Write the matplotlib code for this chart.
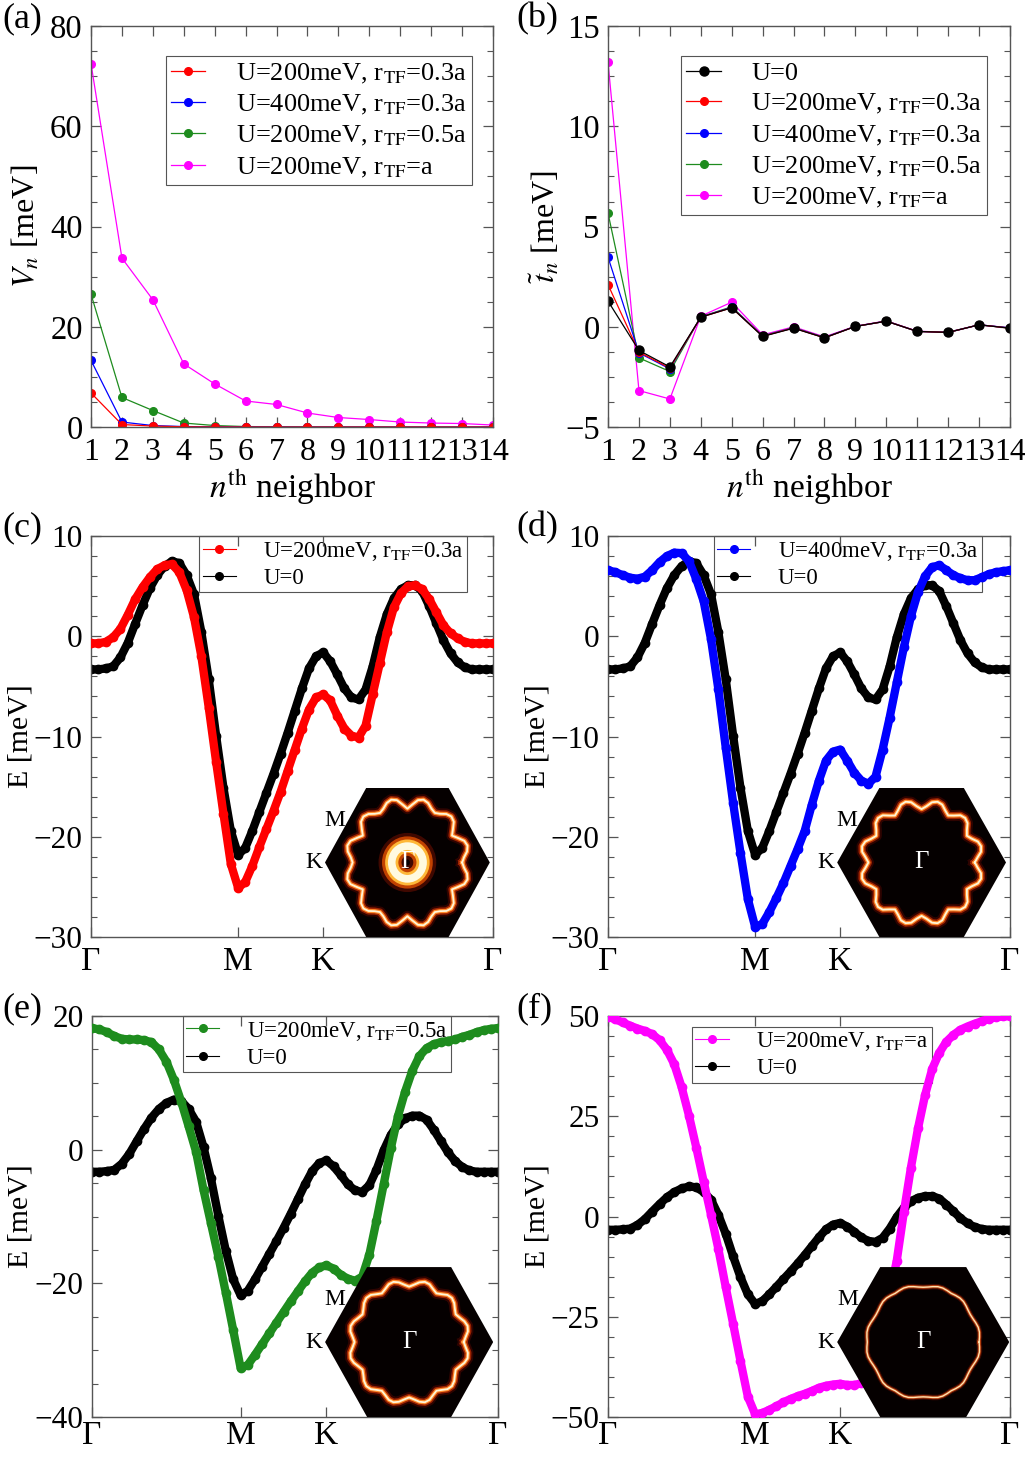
import numpy as np
import matplotlib.pyplot as plt
from matplotlib.lines import Line2D
from matplotlib.patches import Polygon, Circle
from matplotlib.ticker import MultipleLocator, AutoMinorLocator

plt.rcParams['font.family'] = ['Liberation Serif', 'DejaVu Serif']
plt.rcParams['mathtext.fontset'] = 'stix'

RED, BLUE, GREEN, MAGENTA, BLACK = '#ff0000', '#0000ff', '#1e8c1e', '#ff00ff', '#000000'
FRAME = '#555555'

# ---- panels (a), (b): effective couplings vs neighbour index
neighbor = [1, 2, 3, 4, 5, 6, 7, 8, 9, 10, 11, 12, 13, 14]

V_red = [6.8, 0.5, 0.2, 0.05, 0.02, 0.01, 0, 0, 0, 0, 0, 0, 0, 0]
V_blue = [13.3, 1.0, 0.3, 0.1, 0.05, 0.02, 0.01, 0, 0, 0, 0, 0, 0, 0]
V_green = [26.5, 5.9, 3.3, 0.8, 0.3, 0.1, 0.05, 0.03, 0.02, 0.01, 0, 0, 0, 0]
V_magenta = [72.5, 33.7, 25.4, 12.6, 8.6, 5.2, 4.5, 2.8, 1.9, 1.5, 1.0, 0.8, 0.7, 0.4]

t_u0 = [1.28, -1.18, -2.0, 0.48, 0.95, -0.48, -0.07, -0.55, 0.02, 0.28, -0.23, -0.28, 0.1, -0.07]
t_red = [2.1, -1.26, -2.06, 0.48, 0.95, -0.47, -0.06, -0.55, 0.02, 0.28, -0.23, -0.28, 0.1, -0.07]
t_blue = [3.47, -1.3, -2.1, 0.49, 0.97, -0.46, -0.05, -0.54, 0.02, 0.28, -0.23, -0.28, 0.1, -0.06]
t_green = [5.67, -1.55, -2.23, 0.5, 1.0, -0.45, -0.04, -0.53, 0.02, 0.29, -0.23, -0.27, 0.1, -0.06]
t_magenta = [13.2, -3.18, -3.6, 0.53, 1.23, -0.4, 0.0, -0.5, 0.03, 0.3, -0.22, -0.27, 0.1, -0.05]

lab_red = 'U=200meV, r$_{\\mathrm{TF}}$=0.3a'
lab_blue = 'U=400meV, r$_{\\mathrm{TF}}$=0.3a'
lab_green = 'U=200meV, r$_{\\mathrm{TF}}$=0.5a'
lab_magenta = 'U=200meV, r$_{\\mathrm{TF}}$=a'
lab_u0 = 'U=0'

# ---- panels (c)-(f): bands along Gamma-M-K-Gamma
kG, kM, kK, kG2 = 0.0, 1.0, 1 + 1 / np.sqrt(3), 1 + np.sqrt(3)
k_path = np.concatenate([np.linspace(kG, kM, 21), np.linspace(kM, kK, 13)[1:],
                         np.linspace(kK, kG2, 25)[1:]])
k_labels = ['Γ', 'M', 'K', 'Γ']

E_u0 = [-3.3, -3.3, -3.2, -3.0, -2.1, -0.65, 1.25, 3.1, 4.8, 6.1, 7.0, 7.5, 7.3, 6.1, 4.2, 0.4,
        -4.3, -9.9, -15.1, -19.4, -21.8,
        -21.1, -19.4, -17.5, -15.6, -13.7, -11.7, -9.6, -7.4, -5.2, -3.2, -2.0, -1.6,
        -2.5, -3.8, -5.2, -6.1, -6.3, -5.3, -3.0, -0.1, 2.2, 3.8, 4.7, 5.1, 5.1, 4.5, 3.0, 1.3,
        -0.4, -1.7, -2.6, -3.1, -3.3, -3.3, -3.3, -3.3]
E_red = [-0.7, -0.7, -0.55, -0.1, 0.75, 2.15, 3.7, 4.9, 5.9, 6.7, 7.1, 7.2, 6.4, 4.6, 1.9, -2.0,
         -7.1, -12.5, -17.7, -22.7, -25.1,
         -24.5, -22.9, -21.0, -19.2, -17.4, -15.5, -13.4, -11.3, -9.2, -7.3, -6.1, -5.8,
         -6.4, -7.9, -9.2, -9.9, -10.1, -8.9, -5.8, -2.7, 0.4, 2.9, 4.3, 5.0, 5.1, 4.7, 3.7, 2.4,
         1.1, 0.3, -0.2, -0.55, -0.7, -0.7, -0.7, -0.7]
E_blue = [6.6, 6.4, 6.1, 5.85, 5.75, 5.95, 6.6, 7.4, 8.0, 8.35, 8.3, 7.5, 5.7, 3.5, -0.3, -5.3,
          -11.1, -16.6, -21.6, -26.2, -29.0,
          -28.7, -27.5, -26.1, -24.6, -22.9, -21.2, -19.4, -16.8, -14.4, -12.4, -11.5, -11.3,
          -12.4, -13.6, -14.4, -14.7, -14.0, -11.3, -8.1, -4.6, -1.1, 2.0, 4.4, 6.0, 6.9, 7.1, 6.6,
          6.1, 5.8, 5.6, 5.6, 5.9, 6.2, 6.4, 6.5, 6.6]
E_green = [18.2, 18.0, 17.6, 17.0, 16.6, 16.5, 16.5, 16.4, 16.1, 15.0, 13.2, 10.5, 7.2, 3.5, -0.3,
           -6.0, -11.0, -16.0, -21.4, -27.0, -32.7,
           -32.2, -30.7, -29.1, -27.5, -25.9, -24.3, -22.7, -21.2, -19.7, -18.4, -17.6, -17.3,
           -17.8, -18.7, -19.3, -19.6, -19.0, -15.7, -10.6, -5.2, 0.2, 5.0, 8.7, 11.8, 14.0, 15.2,
           15.8, 16.1, 16.3, 16.5, 16.9, 17.2, 17.6, 17.9, 18.1, 18.2]
E_magenta = [49.8, 49.2, 48.4, 47.6, 46.9, 46.3, 45.5, 44.0, 41.6, 38.0, 32.3, 25.2, 17.2, 8.7,
             0.4, -8.1, -17.6, -26.7, -36.0, -44.9, -49.3,
             -49.0, -48.2, -47.3, -46.3, -45.5, -44.8, -44.2, -43.5, -42.7, -42.2, -41.9, -41.7,
             -42.0, -42.0, -41.6, -40.0, -35.5, -28.0, -19.5, -11.0, 1.1, 12.2, 22.0, 30.3, 36.8,
             40.8, 43.6, 45.3, 46.6, 47.4, 48.1, 48.7, 49.3, 49.7, 49.9, 50.0]

# ---- Fermi-surface insets: radius (in units of |GK|) vs angle from the K direction
fs_angle = [0, 5, 10, 15, 20, 25, 30]
fs_c = [0.665, 0.69, 0.735, 0.755, 0.735, 0.675, 0.625]
fs_c_ring = 0.19
fs_d = [0.63, 0.665, 0.715, 0.73, 0.71, 0.655, 0.62]
fs_e = [0.65, 0.675, 0.71, 0.72, 0.70, 0.665, 0.64]
fs_f = [0.650, 0.657, 0.664, 0.662, 0.650, 0.638, 0.633]


def fs_curve(radii):
    a = np.array(fs_angle, float)
    r = np.array(radii, float)
    a60 = np.concatenate([a, 60 - a[::-1][1:]])
    r60 = np.concatenate([r, r[::-1][1:]])
    ang = np.concatenate([a60[:-1] + 60 * m for m in range(6)] + [[360.0]])
    rad = np.concatenate([r60[:-1]] * 6 + [[r60[0]]])
    th = np.deg2rad(ang)
    return rad * np.cos(th), rad * np.sin(th)


def style_axes(ax, ysize=23.5):
    for s in ax.spines.values():
        s.set_color(FRAME)
        s.set_linewidth(1.0)
    ax.tick_params(which='both', direction='in', top=True, right=True, color=FRAME)
    ax.tick_params(which='major', length=7, width=0.9)
    ax.tick_params(which='minor', length=4, width=0.8)
    ax.tick_params(axis='y', pad=6, labelsize=ysize)
    ax.tick_params(axis='x', pad=8, labelsize=23)


def add_inset(ax, box, radii, ring=False, thin=False):
    iax = ax.inset_axes(box)
    iax.set_xlim(-1, 1)
    iax.set_ylim(-np.sqrt(3) / 2, np.sqrt(3) / 2)
    iax.axis('off')
    h = np.sqrt(3) / 2
    hexagon = [(1, 0), (0.5, h), (-0.5, h), (-1, 0), (-0.5, -h), (0.5, -h)]
    iax.add_patch(Polygon(hexagon, closed=True, fc='#050000', ec='none'))
    x, y = fs_curve(radii)
    if thin:
        layers = [(4.0, '#5a0c00', 0.6), (2.4, '#c0420e', 0.9), (1.0, '#ffe2b0', 1.0)]
    else:
        layers = [(8.0, '#4a0600', 0.6), (5.2, '#b02800', 0.85), (3.0, '#ff8a2a', 1.0),
                  (1.3, '#fff6d8', 1.0)]
    for lw, c, al in layers:
        iax.plot(x, y, color=c, lw=lw, alpha=al, solid_joinstyle='round')
    if ring:
        for lw, c, al in [(19, '#5a0c00', 0.7), (14, '#d04800', 0.9), (9.5, '#ffb838', 1.0),
                          (5.5, '#fffae0', 1.0)]:
            iax.add_patch(Circle((0, 0), fs_c_ring, fill=False, ec=c, lw=lw, alpha=al))
    iax.text(-1.03, 0, 'K', ha='right', va='center', fontsize=17, clip_on=False)
    iax.text(-0.76, 0.49, 'M', ha='right', va='center', fontsize=17, clip_on=False)
    iax.text(0, 0, 'Γ', ha='center', va='center', fontsize=18, color='white')


def band_panel(ax, E, col, lab, ylim, major, nminor, anchor, box, radii, ylab_x, kpad,
               ring=False, thin=False):
    ax.plot(k_path, E_u0, '-o', color=BLACK, lw=6.0, ms=6.0, solid_capstyle='round', zorder=2)
    ax.plot(k_path, E, '-o', color=col, lw=6.0, ms=6.0, solid_capstyle='round', zorder=3)
    ax.set_xlim(kG, kG2)
    ax.set_ylim(*ylim)
    ax.set_xticks([kG, kM, kK, kG2])
    ax.set_xticklabels(k_labels)
    ax.yaxis.set_major_locator(MultipleLocator(major))
    ax.yaxis.set_minor_locator(AutoMinorLocator(nminor))
    style_axes(ax, ysize=22.5)
    ax.tick_params(axis='x', labelsize=24, pad=kpad)
    ax.set_ylabel('E [meV]', fontsize=21.5)
    ax.yaxis.set_label_coords(ylab_x, 0.5)
    handles = [Line2D([], [], color=col, lw=0.8, marker='o', ms=5.5),
               Line2D([], [], color=BLACK, lw=0.8, marker='o', ms=5.5)]
    leg = ax.legend(handles, [lab, lab_u0], loc='upper left', bbox_to_anchor=anchor,
                    fontsize=16.5, frameon=True, fancybox=False, edgecolor=FRAME,
                    framealpha=1, borderaxespad=0, handlelength=1.45, handletextpad=1.2,
                    labelspacing=0.22, borderpad=0.15)
    leg.get_frame().set_linewidth(0.8)
    leg.set_zorder(1)
    add_inset(ax, box, radii, ring=ring, thin=thin)


fig = plt.figure(figsize=(10.25, 14.58), dpi=100)

# (a)
ax = fig.add_axes([0.0888, 0.7071, 0.3922, 0.2750])
series_a = [(V_magenta, MAGENTA, lab_magenta), (V_green, GREEN, lab_green),
            (V_blue, BLUE, lab_blue), (V_red, RED, lab_red)]
lines = {}
for vals, col, lab in series_a:
    lines[lab], = ax.plot(neighbor, vals, '-o', color=col, lw=0.9, ms=5.5, label=lab)
ax.set_xlim(1, 14)
ax.set_ylim(0, 80)
ax.set_xticks(neighbor)
ax.yaxis.set_major_locator(MultipleLocator(20))
ax.yaxis.set_minor_locator(AutoMinorLocator(4))
style_axes(ax)
ax.set_xlabel('$n^{\\mathrm{th}}$ neighbor', fontsize=24, labelpad=0)
ax.set_ylabel('$V_n$ [meV]', fontsize=23)
ax.yaxis.set_label_coords(-0.122, 0.5)
order = [lab_red, lab_blue, lab_green, lab_magenta]
leg = ax.legend([lines[l] for l in order], order, loc='upper left', bbox_to_anchor=(0.186, 0.925),
                fontsize=19, fancybox=False, edgecolor=FRAME, framealpha=1, borderaxespad=0,
                handlelength=1.3, handletextpad=1.15, labelspacing=0.27, borderpad=0.2)
leg.get_frame().set_linewidth(0.8)

# (b)
ax = fig.add_axes([0.5932, 0.7071, 0.3922, 0.2750])
series_b = [(t_magenta, MAGENTA, lab_magenta), (t_green, GREEN, lab_green),
            (t_blue, BLUE, lab_blue), (t_red, RED, lab_red), (t_u0, BLACK, lab_u0)]
lines = {}
for vals, col, lab in series_b:
    lines[lab], = ax.plot(neighbor, vals, '-o', color=col, lw=0.9, ms=5.5 if col != BLACK else 6.5,
                          label=lab)
ax.set_xlim(1, 14)
ax.set_ylim(-5, 15)
ax.set_xticks(neighbor)
ax.yaxis.set_major_locator(MultipleLocator(5))
ax.yaxis.set_minor_locator(AutoMinorLocator(4))
style_axes(ax)
ax.set_xlabel('$n^{\\mathrm{th}}$ neighbor', fontsize=24, labelpad=0)
ax.set_ylabel('$\\tilde{t}_n$ [meV]', fontsize=23)
ax.yaxis.set_label_coords(-0.114, 0.5)
order = [lab_u0, lab_red, lab_blue, lab_green, lab_magenta]
leg = ax.legend([lines[l] for l in order], order, loc='upper left', bbox_to_anchor=(0.182, 0.925),
                fontsize=19, fancybox=False, edgecolor=FRAME, framealpha=1, borderaxespad=0,
                handlelength=1.3, handletextpad=1.15, labelspacing=0.27, borderpad=0.2)
leg.get_frame().set_linewidth(0.8)

# (c)-(f)
ax = fig.add_axes([0.0888, 0.3573, 0.3922, 0.2750])
band_panel(ax, E_red, RED, lab_red, (-30, 10), 10, 5, (0.269, 1.0),
           [0.582, 0.0, 0.41, 0.372], fs_c, -0.143, 7, ring=True)
ax = fig.add_axes([0.5932, 0.3573, 0.3922, 0.2750])
band_panel(ax, E_blue, BLUE, lab_blue, (-30, 10), 10, 5, (0.263, 1.0),
           [0.570, 0.0, 0.42, 0.372], fs_d, -0.143, 7)
ax = fig.add_axes([0.0898, 0.0281, 0.3961, 0.2750])
band_panel(ax, E_green, GREEN, lab_green, (-40, 20), 20, 4, (0.223, 1.0),
           [0.574, 0.0, 0.414, 0.374], fs_e, -0.144, 2.5)
ax = fig.add_axes([0.5932, 0.0281, 0.3922, 0.2750])
band_panel(ax, E_magenta, MAGENTA, lab_magenta, (-50, 50), 25, 5, (0.209, 0.973),
           [0.570, 0.0, 0.428, 0.374], fs_f, -0.143, 2.5, thin=True)

for lab, xp, yp in [('(a)', 2, 2), ('(b)', 516, 2), ('(c)', 2, 511), ('(d)', 516, 511),
                    ('(e)', 2, 992), ('(f)', 516, 992)]:
    fig.text(xp / 1025, 1 - yp / 1458, lab, ha='left', va='top', fontsize=26)

fig.savefig('out.png', dpi=100)
